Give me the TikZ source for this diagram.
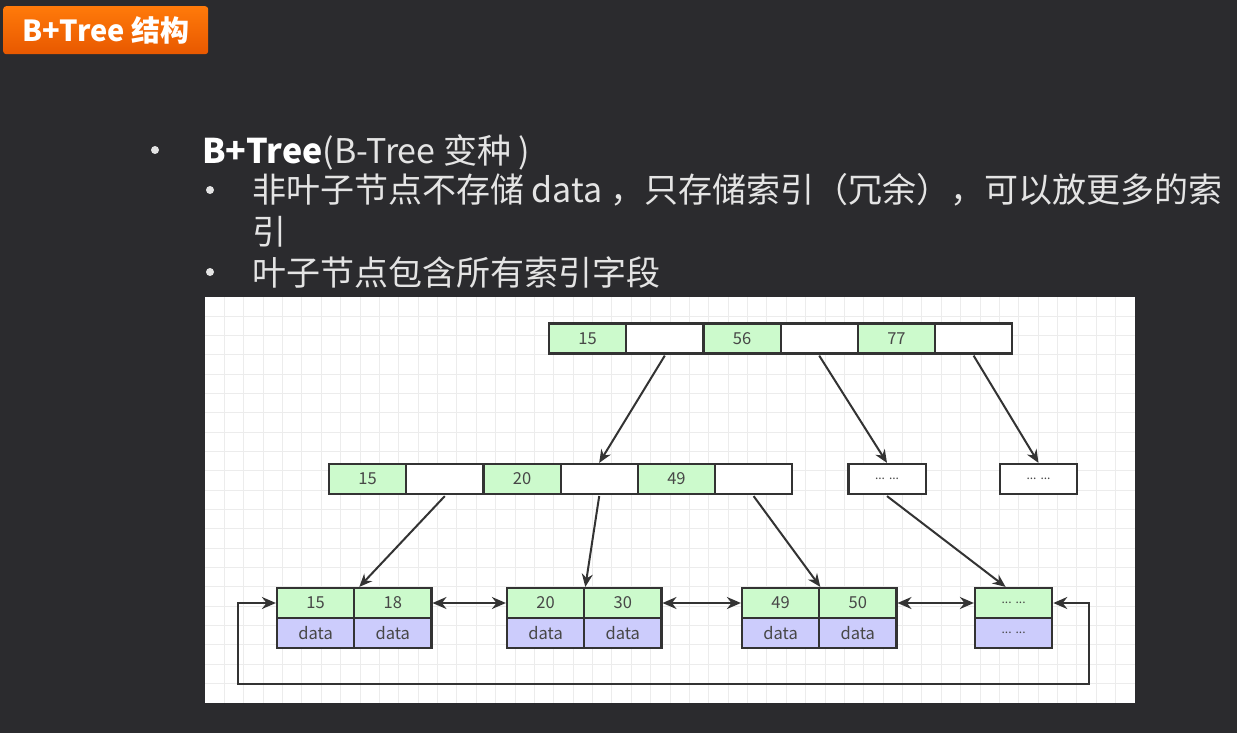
\documentclass[tikz,border=0pt]{standalone}
\usepackage{fontspec}
\setmainfont{Noto Sans CJK SC}
\usetikzlibrary{arrows.meta,calc}
\definecolor{bgc}{HTML}{2B2B2E}
\definecolor{orgt}{HTML}{FF7A0A}
\definecolor{orgb}{HTML}{E85800}
\definecolor{txt}{HTML}{E4E4E4}
\definecolor{gridc}{HTML}{ECECEC}
\definecolor{cellg}{HTML}{CCFACC}
\definecolor{cellp}{HTML}{CCCCFC}
\definecolor{ink}{HTML}{333333}
\begin{document}
\begin{tikzpicture}[x=1pt,y=-1pt,
  cell/.style={draw=ink, line width=2.2pt, minimum width=77.2pt, minimum height=30pt, inner sep=0pt, font=\fontsize{16.5}{18}\selectfont, text=ink!90},
  gcell/.style={cell, fill=cellg},
  wcell/.style={cell, fill=white},
  pcell/.style={cell, fill=cellp},
  arr/.style={draw=ink, line width=2pt, -{Stealth[length=13pt,width=11pt]}},
  darr/.style={draw=ink, line width=2pt, {Stealth[length=14pt,width=12pt]}-{Stealth[length=14pt,width=12pt]}},
  bul/.style={circle, fill=txt, inner sep=0pt, minimum size=8pt},
  bigtxt/.style={anchor=base west, inner sep=0pt, text=txt, font=\fontsize{34}{40}\selectfont}
]
\newcommand{\dd}{\raisebox{-2pt}{\fontsize{12}{12}\selectfont ...\,\,...}}
\useasboundingbox (0,0) rectangle (1237,733);
\fill[bgc] (0,0) rectangle (1237,733);

% title
\node[anchor=north west, minimum width=205pt, minimum height=48pt, inner sep=0pt, rounded corners=3pt,
      top color=orgt, bottom color=orgb, text=white, font=\bfseries\fontsize{29}{32}\selectfont] (title) at (3,6) {B+Tree 结构};

% bullets and text
\node[bul] (b1) at (155,150) {};
\node[bigtxt] (t1) at (202,164) {\textbf{\color{white}B+Tree}(B-Tree 变种 )};
\node[bul] (b2) at (210,190) {};
\node[bigtxt] (t2) at (252,202) {非叶子节点不存储 data ，只存储索引（冗余），可以放更多的索};
\node[bigtxt] (t3) at (252,244) {引};
\node[bul] (b3) at (210,272) {};
\node[bigtxt] (t4) at (252,285) {叶子节点包含所有索引字段};

% panel
\fill[white] (205,297) rectangle (1135,703);
\begin{scope}
\clip (205,297) rectangle (1135,703);
\foreach \i in {1,...,47} \draw[gridc, line width=1pt] ({205+19.375*\i},297) -- ({205+19.375*\i},703);
\foreach \j in {1,...,20} \draw[gridc, line width=1pt] (205,{297+19.33*\j}) -- (1135,{297+19.33*\j});
\end{scope}

% top row
\node[gcell] (ta) at (587.6,338.5) {15};
\node[wcell] (tb) at (664.8,338.5) {};
\node[gcell] (tc) at (742.0,338.5) {56};
\node[wcell] (td) at (819.2,338.5) {};
\node[gcell] (te) at (896.4,338.5) {77};
\node[wcell] (tf) at (973.6,338.5) {};

% middle row
\node[gcell] (ma) at (367.6,479) {15};
\node[wcell] (mb) at (444.8,479) {};
\node[gcell] (mc) at (522.0,479) {20};
\node[wcell] (md) at (599.2,479) {};
\node[gcell] (me) at (676.4,479) {49};
\node[wcell] (mf) at (753.6,479) {};
\node[wcell] (da) at (887,479) {\dd};
\node[wcell] (db) at (1038.5,479) {\dd};

% leaves
\node[gcell] (l1a) at (315.6,603) {15};
\node[gcell] (l1b) at (392.8,603) {18};
\node[pcell] (l1c) at (315.6,633) {data};
\node[pcell] (l1d) at (392.8,633) {data};

\node[gcell] (l2a) at (545.6,603) {20};
\node[gcell] (l2b) at (622.8,603) {30};
\node[pcell] (l2c) at (545.6,633) {data};
\node[pcell] (l2d) at (622.8,633) {data};

\node[gcell] (l3a) at (780.6,603) {49};
\node[gcell] (l3b) at (857.8,603) {50};
\node[pcell] (l3c) at (780.6,633) {data};
\node[pcell] (l3d) at (857.8,633) {data};

\node[gcell] (l4a) at (1013.6,603) {\dd};
\node[pcell] (l4c) at (1013.6,633) {\dd};

% tree arrows
\draw[arr] ($(tb.south)+(0,1)$) -- (md.north);
\draw[arr] ($(td.south)+(0,1)$) -- (da.north);
\draw[arr] ($(tf.south)+(0,1)$) -- (db.north);
\draw[arr] ($(mb.south)+(0,1)$) -- ($(l1a.north east)+(4,0)$);
\draw[arr] ($(md.south)+(0,1)$) -- (l2a.north east);
\draw[arr] ($(mf.south)+(0,1)$) -- (l3a.north east);
\draw[arr] ($(da.south)+(0,1)$) -- ($(l4a.north)+(-8,0)$);

% leaf links
\draw[darr] (l1b.east) -- (l2a.west);
\draw[darr] (l2b.east) -- (l3a.west);
\draw[darr] (l3b.east) -- (l4a.west);
\coordinate (lpl) at (238,684);
\coordinate (lpr) at (1089,684);
\draw[darr] (l1a.west) -- (l1a.west -| lpl) -- (lpl) -- (lpr) -- (lpr |- l4a.east) -- (l4a.east);
\end{tikzpicture}
\end{document}
